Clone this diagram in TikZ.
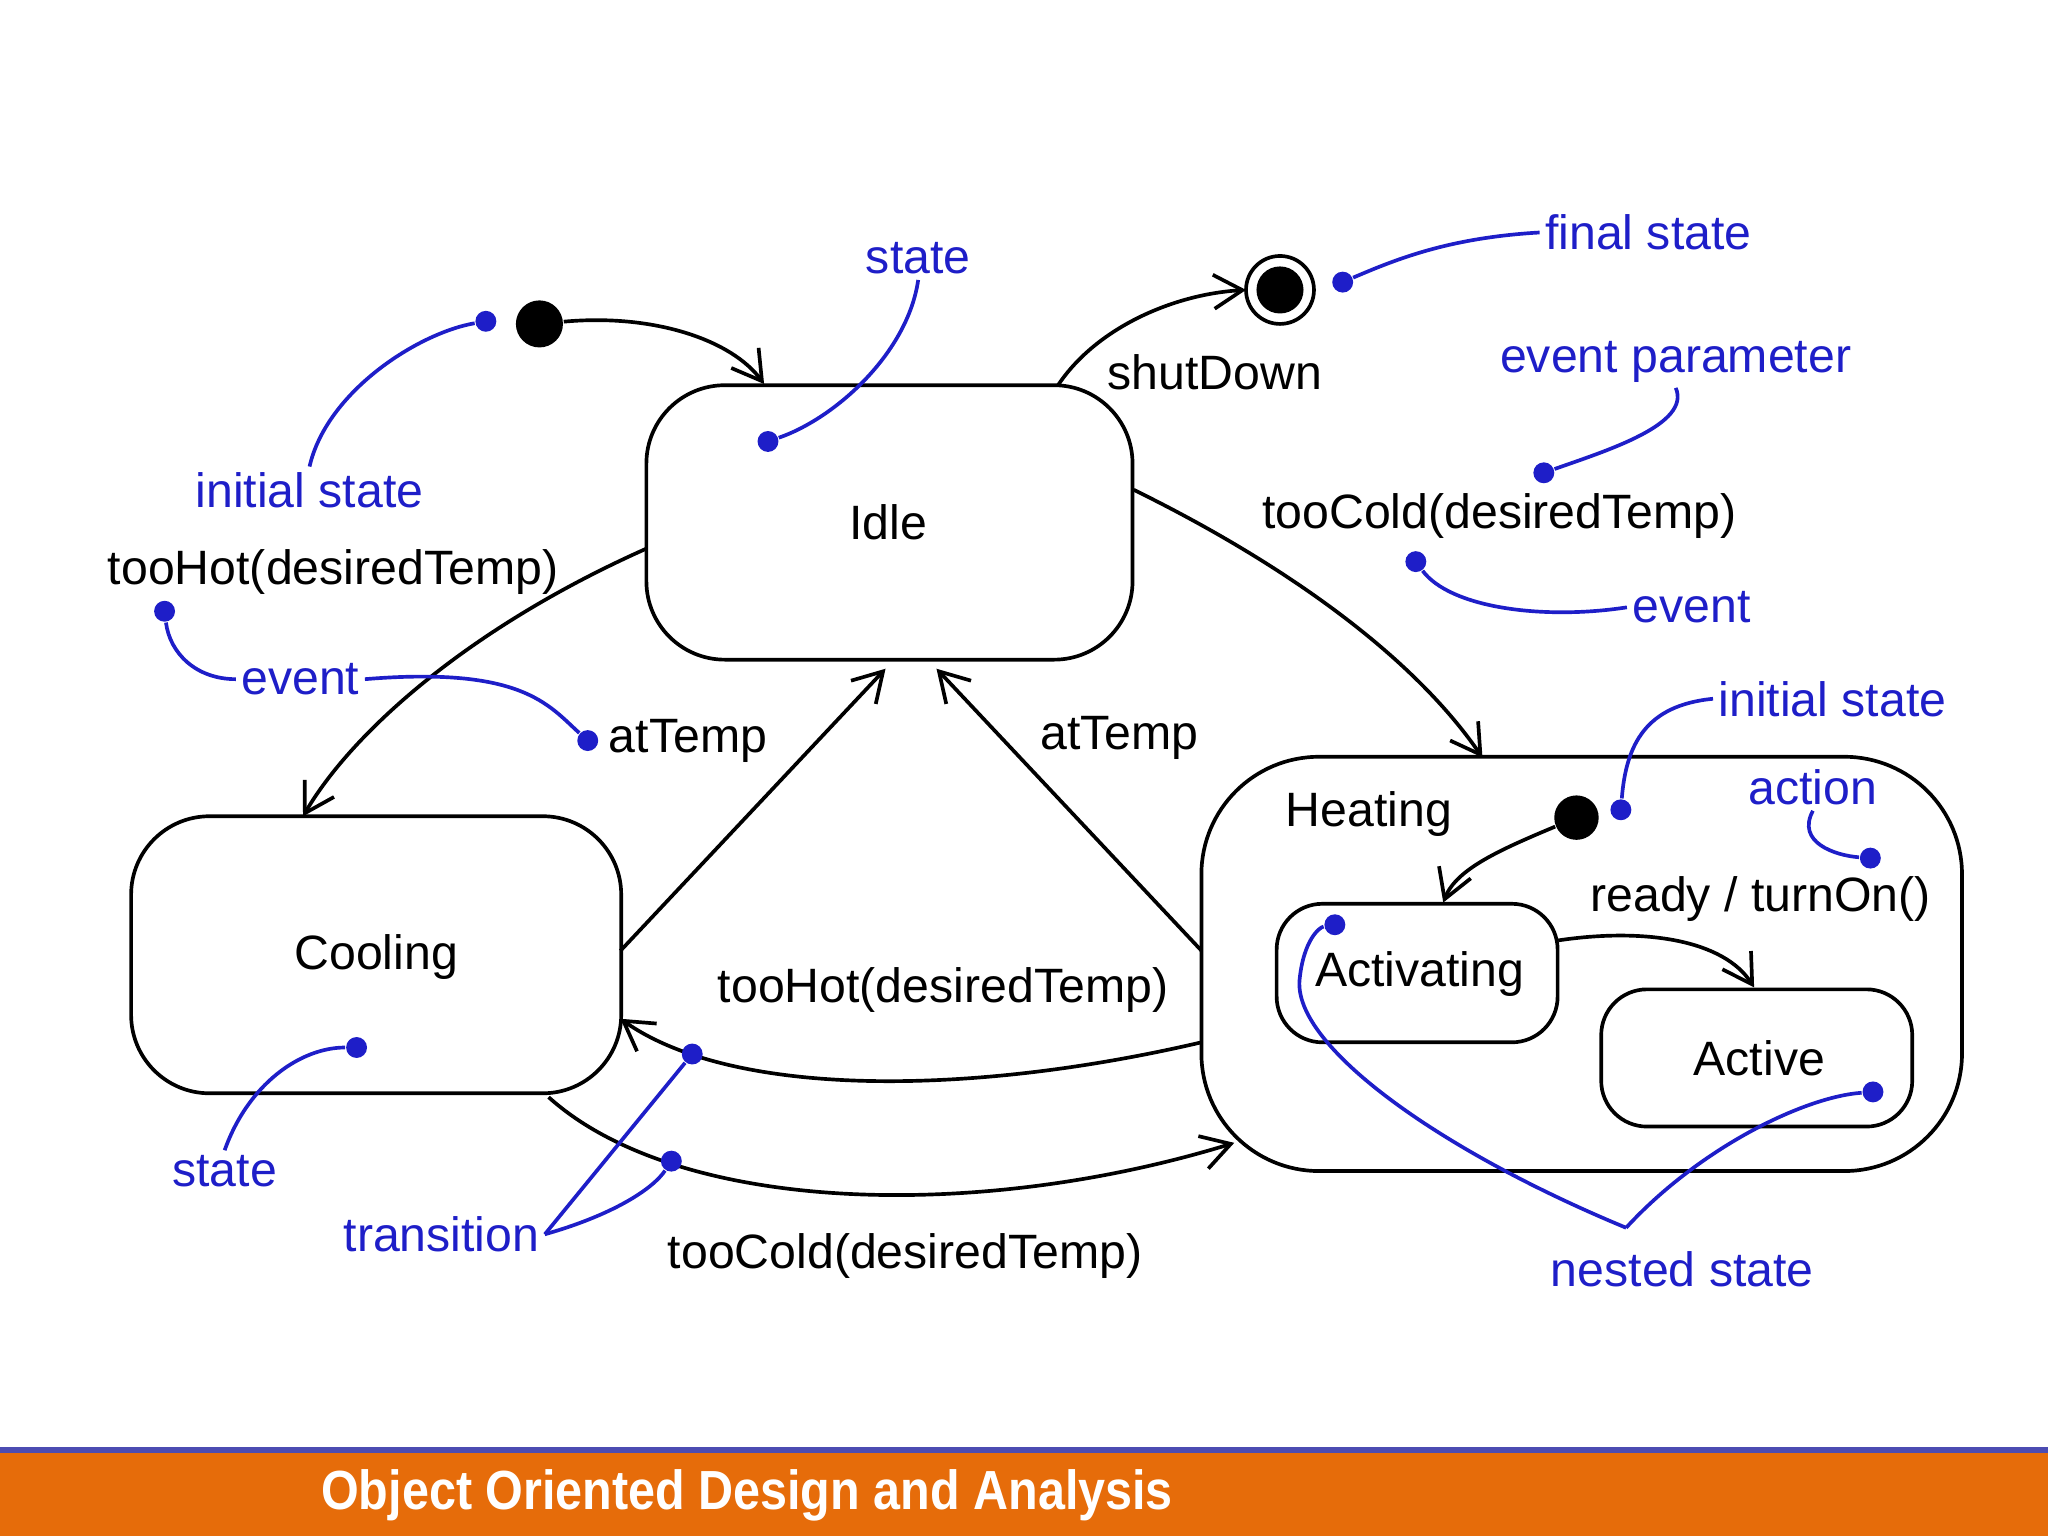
\documentclass[tikz,border=0pt]{standalone}
\usepackage{fontspec}
\setmainfont{Liberation Sans}
\usetikzlibrary{arrows.meta}
\definecolor{ann}{RGB}{30,30,200}
\definecolor{bar}{RGB}{230,108,10}
\begin{document}
\begin{tikzpicture}[x=0.01cm,y=-0.01cm,
  st/.style={draw,thick,rounded corners=0.6cm,inner sep=0pt},
  tr/.style={thick,-{Straight Barb[length=2.2mm,width=2.6mm]}},
  lab/.style={font=\fontsize{10.5}{12}\selectfont,inner sep=1pt},
  alab/.style={font=\fontsize{10.5}{12}\selectfont,text=ann,inner sep=1pt},
  an/.style={draw=ann,thick},
  dot/.style={circle,fill=ann,minimum size=0.16cm,inner sep=0pt}]
\useasboundingbox (0,0) rectangle (1568,1176);
\fill[white] (0,0) rectangle (1568,1176);
% footer
\fill[bar] (0,1110) rectangle (1568,1176);
\draw[line width=1.2pt,color=gray!60!blue] (0,1110) -- (1568,1110);
\node[anchor=west,text=white,font=\bfseries\fontsize{12}{14}\selectfont,xscale=0.88] (foot) at (235,1145) {Object Oriented Design and Analysis};
% states
\node[st,minimum width=3.72cm,minimum height=2.1cm] (idle) at (681,400) {};
\node[lab] (idlet) at (680,400) {Idle};
\node[st,minimum width=3.75cm,minimum height=2.12cm] (cool) at (288,731) {};
\node[lab] (coolt) at (288,733) {Cooling};
\node[st,rounded corners=0.9cm,minimum width=5.82cm,minimum height=3.17cm] (heat) at (1211,738) {};
\node[lab] (heatt) at (1048,623) {Heating};
\node[st,rounded corners=0.35cm,minimum width=2.15cm,minimum height=1.06cm] (actg) at (1085,745) {};
\node[lab] (actgt) at (1087,746) {Activating};
\node[st,rounded corners=0.35cm,minimum width=2.38cm,minimum height=1.05cm] (actv) at (1345,810) {};
\node[lab] (actvt) at (1347,810) {Active};
% pseudo states
\node[circle,fill=black,minimum size=0.36cm,inner sep=0pt] (init) at (413,248) {};
\node[circle,draw,thick,minimum size=0.52cm,inner sep=0pt] (fin) at (980,222) {};
\node[circle,fill=black,minimum size=0.36cm,inner sep=0pt] (finI) at (980,222) {};
\node[circle,fill=black,minimum size=0.34cm,inner sep=0pt] (hinit) at (1207,626) {};
% coordinates
\coordinate (idleTop) at (585,294);
\coordinate (idleSD) at (810,295);
\coordinate (idleR) at (868,375);
\coordinate (heatTop) at (1135,580);
\coordinate (idleL) at (495,420);
\coordinate (coolTop) at (232,625);
\coordinate (coolR1) at (475,728);
\coordinate (idleB1) at (678,512);
\coordinate (heatL1) at (920,728);
\coordinate (idleB2) at (717,512);
\coordinate (heatL2) at (920,798);
\coordinate (coolR2) at (475,780);
\coordinate (coolB) at (420,840);
\coordinate (heatL3) at (945,875);
\coordinate (actgTop) at (1105,691);
\coordinate (actgR) at (1193,720);
\coordinate (actvTop) at (1343,756);
\coordinate (finL) at (954,222);
% transitions
\draw[tr] (init) .. controls (500,240) and (560,260) .. (idleTop);
\draw[tr] (idleSD) .. controls (840,250) and (900,225) .. (finL);
\draw[tr] (idleR) .. controls (980,430) and (1080,500) .. (heatTop);
\draw[tr] (idleL) .. controls (360,480) and (270,560) .. (coolTop);
\draw[tr] (coolR1) -- (idleB1);
\draw[tr] (heatL1) -- (idleB2);
\draw[tr] (heatL2) .. controls (740,840) and (560,840) .. (coolR2);
\draw[tr] (coolB) .. controls (520,930) and (750,935) .. (heatL3);
\draw[tr] (hinit) .. controls (1150,650) and (1115,665) .. (actgTop);
\draw[tr] (actgR) .. controls (1260,710) and (1320,720) .. (actvTop);
% transition labels
\node[lab] (l1) at (930,285) {shutDown};
\node[lab] (l2) at (1148,395) {tooCold(desiredTemp)};
\node[lab] (l3) at (255,438) {tooHot(desiredTemp)};
\node[lab,anchor=west] (l4) at (462,567) {atTemp};
\node[lab] (l5) at (857,565) {atTemp};
\node[lab] (l6) at (722,758) {tooHot(desiredTemp)};
\node[lab] (l7) at (693,962) {tooCold(desiredTemp)};
\node[lab] (l8) at (1348,688) {ready / turnOn()};
% annotations
\node[alab] (a1) at (703,198) {state};
\node[dot] (d1) at (588,338) {};
\draw[an] (a1.south) .. controls (695,270) and (640,320) .. (d1);
\node[alab] (a2) at (1262,178) {final state};
\node[dot] (d2) at (1028,216) {};
\draw[an] (a2.west) .. controls (1110,182) and (1070,198) .. (d2);
\node[alab] (a3) at (237,375) {initial state};
\node[dot] (d3) at (372,246) {};
\draw[an] (a3.north) .. controls (250,300) and (320,255) .. (d3);
\node[alab] (a4) at (1283,277) {event parameter};
\node[dot] (d4) at (1182,362) {};
\draw[an] (a4.south) .. controls (1295,325) and (1230,345) .. (d4);
\node[alab] (a5) at (1295,465) {event};
\node[dot] (d5) at (1084,430) {};
\draw[an] (a5.west) .. controls (1180,475) and (1110,465) .. (d5);
\node[alab] (a6) at (1403,535) {initial state};
\node[dot] (d6) at (1241,620) {};
\draw[an] (a6.west) .. controls (1260,540) and (1245,570) .. (d6);
\node[alab] (a7) at (1388,603) {action};
\node[dot] (d7) at (1432,657) {};
\draw[an] (a7.south) .. controls (1375,645) and (1405,655) .. (d7);
\node[alab] (a8) at (230,520) {event};
\node[dot] (d8) at (126,468) {};
\node[dot] (d9) at (450,567) {};
\draw[an] (a8.west) .. controls (150,520) and (130,500) .. (d8);
\draw[an] (a8.east) .. controls (400,510) and (420,540) .. (d9);
\node[alab] (a9) at (172,897) {state};
\node[dot] (d10) at (273,802) {};
\draw[an] (a9.north) .. controls (190,830) and (230,802) .. (d10);
\node[alab] (a10) at (338,945) {transition};
\node[dot] (d11) at (530,807) {};
\node[dot] (d12) at (514,889) {};
\draw[an] (a10.east) -- (d11);
\draw[an] (a10.east) .. controls (470,930) and (500,910) .. (d12);
\node[alab] (a11) at (1288,972) {nested state};
\coordinate (ns) at (1245,940);
\node[dot] (d13) at (1022,708) {};
\node[dot] (d14) at (1434,836) {};
\draw[an] (ns) .. controls (1100,880) and (990,800) .. (995,750) .. controls (998,720) and (1010,710) .. (d13);
\draw[an] (ns) .. controls (1300,880) and (1380,840) .. (d14);
\end{tikzpicture}
\end{document}
